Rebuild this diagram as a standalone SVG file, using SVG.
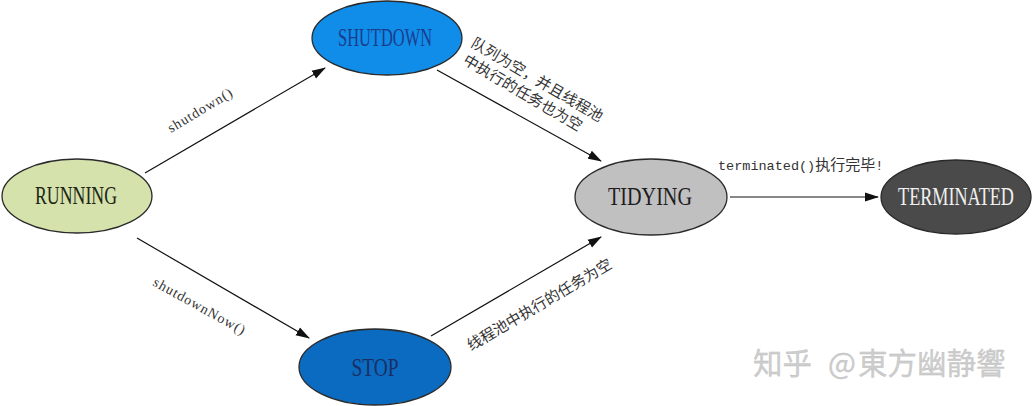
<svg xmlns="http://www.w3.org/2000/svg" width="1033" height="406" viewBox="0 0 1033 406">
<defs>
<marker id="arr" markerWidth="14" markerHeight="10" refX="13" refY="5" orient="auto" markerUnits="userSpaceOnUse">
<path d="M0,0.5 L14,5 L0,9.5 Z" fill="#111"/>
</marker>
<style>
.node{stroke:#2a2a2a;stroke-width:1.3}
.nt{font-family:"Liberation Serif","DejaVu Serif",serif;font-size:25px;text-anchor:middle}
.edge{stroke:#111;stroke-width:1.2;fill:none;marker-end:url(#arr)}
.el{font-family:"Liberation Serif","DejaVu Serif",serif;font-size:14px;fill:#333;letter-spacing:1px}
.cl{font-family:"Noto Sans CJK SC","Liberation Sans",sans-serif;font-size:15px;fill:#333}
.wm{font-family:"Noto Sans CJK SC","Liberation Sans",sans-serif;font-size:29.5px;fill:#cdcdcd;stroke:#bdbdbd;stroke-width:0.3}
</style>
</defs>
<rect width="1033" height="406" fill="#ffffff"/>
<g id="connectors">
<line class="edge" x1="145" y1="173" x2="325" y2="68"/>
<line class="edge" x1="137" y1="238" x2="309" y2="338"/>
<line class="edge" x1="437" y1="70" x2="601" y2="161"/>
<line class="edge" x1="431" y1="336" x2="601" y2="237"/>
<line class="edge" x1="730" y1="197" x2="878" y2="197"/>
<text class="el" x="171" y="133" transform="rotate(-31 171 133)">shutdown()</text>
<text class="el" x="152" y="285" transform="rotate(29 152 285)">shutdownNow()</text>
<text class="cl" x="470" y="46" transform="rotate(30.5 470 46)">队列为空，并且线程池</text>
<text class="cl" x="462" y="63" transform="rotate(30.5 462 63)">中执行的任务也为空</text>
<text class="cl" x="471" y="351" transform="rotate(-30.5 471 351)">线程池中执行的任务为空</text>
<text x="718" y="170" fill="#333" font-family="Liberation Mono,monospace" font-size="13.5">terminated()<tspan font-family="Noto Sans CJK SC,sans-serif" font-size="15">执行完毕</tspan>!</text>
</g>
<g id="RUNNING">
<ellipse class="node" cx="77" cy="196" rx="75" ry="37" fill="#d5e2ac"/>
<text class="nt" x="76" y="204" fill="#1e2616" textLength="82" lengthAdjust="spacingAndGlyphs">RUNNING</text>
</g>
<g id="SHUTDOWN">
<ellipse class="node" cx="387" cy="38" rx="75" ry="37" fill="#0f8de9"/>
<text class="nt" x="385" y="46" fill="#1b3d8c" textLength="94" lengthAdjust="spacingAndGlyphs">SHUTDOWN</text>
</g>
<g id="TIDYING">
<ellipse class="node" cx="651" cy="197" rx="76" ry="38" fill="#c1c0c1"/>
<text class="nt" x="650" y="205" fill="#1e1e1e" textLength="84" lengthAdjust="spacingAndGlyphs">TIDYING</text>
</g>
<g id="TERMINATED">
<ellipse class="node" cx="956" cy="197" rx="75" ry="37" fill="#4a4a4a"/>
<text class="nt" x="0" y="0" fill="#f0f0f0" transform="translate(956 205) scale(0.726 1)">TERMINATED</text>
</g>
<g id="STOP">
<ellipse class="node" cx="375" cy="367" rx="76" ry="38" fill="#0b6bc0"/>
<text class="nt" x="375" y="376" fill="#1a2f66" textLength="47" lengthAdjust="spacingAndGlyphs">STOP</text>
</g>
<text class="wm" y="374"><tspan x="753">知乎</tspan><tspan x="828">@</tspan><tspan x="858">東方幽静響</tspan></text>
</svg>
